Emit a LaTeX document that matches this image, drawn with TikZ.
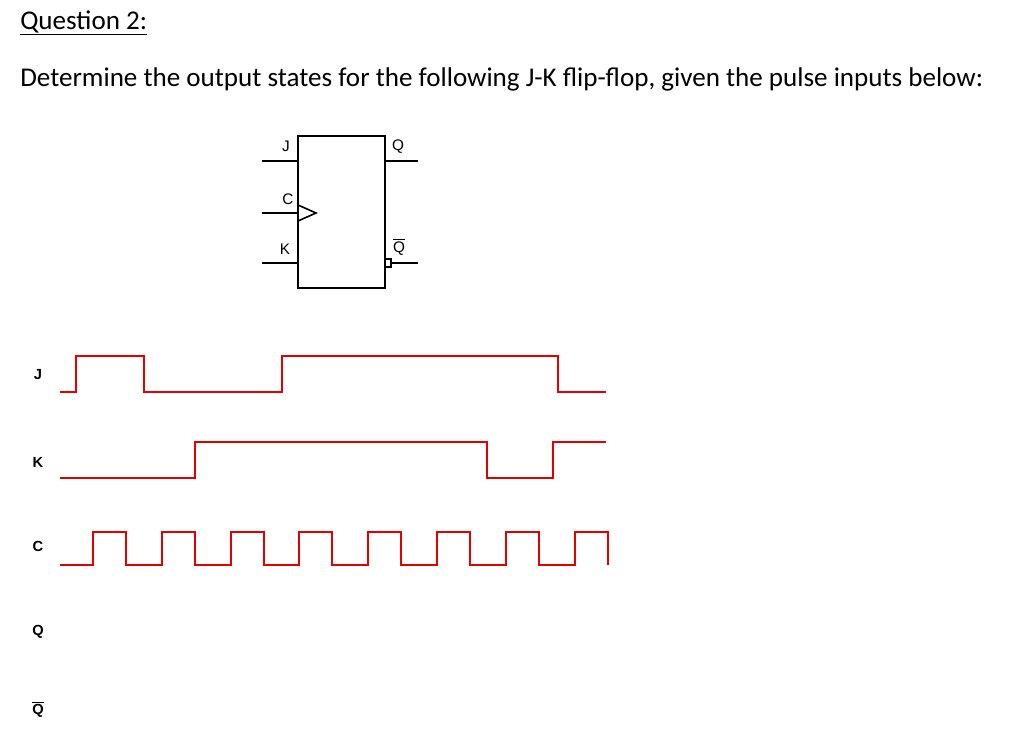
\documentclass[tikz,border=0pt]{standalone}
\usepackage{fontspec}
\setmainfont{Carlito}
\newfontfamily\arialfont{Liberation Sans}
\begin{document}
\begin{tikzpicture}[x=0.75pt,y=-0.75pt,
  wave/.style={red!90!black,line width=1.6pt},
  pin/.style={black,line width=1.4pt},
  plbl/.style={font=\arialfont\fontsize{11.5}{12}\selectfont,inner sep=0pt},
  sig/.style={font=\arialfont\bfseries\fontsize{11}{12}\selectfont,inner sep=0pt}
  ]
\useasboundingbox (0,0) rectangle (1024,753);
% heading
\node[anchor=base west,inner sep=0pt,font=\fontsize{20.3}{22}\selectfont] (title) at (20,29) {\underline{Question 2:}};
\node[anchor=base west,inner sep=0pt,font=\fontsize{20.3}{22}\selectfont] (task) at (20,86)
  {Determine the output states for the following J-K flip-flop, given the pulse inputs below:};
% flip-flop
\draw[pin] (298,136) rectangle (385,288);
\coordinate (jin) at (262,161);
\coordinate (cin) at (262,213);
\coordinate (kin) at (262,263);
\coordinate (qout) at (418,161);
\coordinate (qbout) at (418,263);
\draw[pin] (jin) -- (298,161);
\draw[pin] (cin) -- (298,213);
\draw[pin] (kin) -- (298,263);
\draw[pin] (385,161) -- (qout);
\draw[pin] (390,263) -- (qbout);
\draw[black,line width=1.2pt] (298,205) -- (316,213) -- (298,221);
\draw[black,line width=1.2pt] (385,259) rectangle (391,267);
\node[plbl] (lj) at (286,146) {J};
\node[plbl] (lc) at (288,199) {C};
\node[plbl] (lk) at (285,249) {K};
\node[plbl] (lq) at (398,147) {Q};
\node[plbl] (lqb) at (399,247) {$\overline{\mbox{Q}}$};
% signal names
\node[sig] (sj) at (38,375) {J};
\node[sig] (sk) at (38,462) {K};
\node[sig] (sc) at (38,546) {C};
\node[sig] (sq) at (38,632) {Q};
\node[sig] (sqb) at (38,709) {$\overline{\mbox{Q}}$};
% waveforms
\draw[wave] (60,392) -- (76,392) -- (76,356) -- (144,356) -- (144,392) -- (282,392)
  -- (282,356) -- (558,356) -- (558,392) -- (606,392);
\draw[wave] (60,478) -- (195,478) -- (195,442) -- (487,442) -- (487,478) -- (553,478)
  -- (553,442) -- (606,442);
\draw[wave] (60,565) foreach \t in {0,...,7} {
  -- ({93+68.8*\t},565) -- ({93+68.8*\t},532) -- ({126+68.8*\t},532) -- ({126+68.8*\t},565)};
\end{tikzpicture}
\end{document}
